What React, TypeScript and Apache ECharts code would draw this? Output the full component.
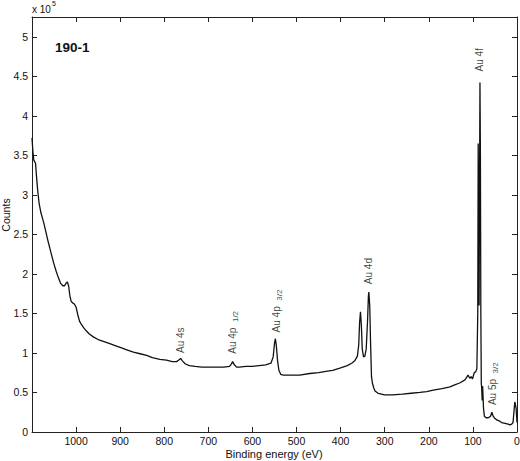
import React, { useEffect, useRef } from "react";
import * as echarts from "echarts";

// Binding energy (eV) and counts (x 10^5)
const energy: number[] = [
  1100, 1098, 1096, 1094, 1092, 1090, 1087, 1084, 1080, 1076, 1073, 1068, 1063, 1057, 1051, 1045, 1040, 1035,
  1030, 1026, 1023, 1020, 1017, 1014, 1011, 1007, 1004, 1000, 996, 992, 988, 983, 977, 970, 960, 950, 940, 925,
  910, 900, 885, 870, 855, 840, 827, 810, 795, 782, 772, 767, 763, 759, 752, 743, 730, 715, 700, 682, 665, 652,
  648, 645, 641, 636, 630, 615, 600, 585, 570, 558, 553, 550, 548, 546, 543, 540, 536, 530, 510, 493, 470, 450,
  430, 418, 400, 385, 375, 368, 362, 359, 357, 355, 353, 351, 348, 345, 342, 339, 337, 336, 334, 332, 330, 328,
  325, 322, 315, 300, 282, 260, 240, 220, 205, 190, 170, 152, 140, 130, 118, 111, 107, 104, 101, 97, 94, 91, 89,
  88, 87, 86, 85, 84, 83, 82, 81, 80, 79, 78, 77, 76, 74, 70, 65, 60, 57, 54, 50, 45, 40, 35, 27, 20, 16, 12, 9,
  7, 5, 4, 2, 0,
];
const counts: number[] = [
  3.72, 3.55, 3.44, 3.42, 3.4, 3.25, 3.05, 2.9, 2.78, 2.7, 2.64, 2.52, 2.4, 2.27, 2.14, 2.03, 1.95, 1.88,
  1.85, 1.85, 1.88, 1.9, 1.85, 1.72, 1.65, 1.63, 1.62, 1.58, 1.48, 1.4, 1.36, 1.32, 1.28, 1.24, 1.2, 1.17, 1.15, 1.12,
  1.09, 1.07, 1.04, 1.01, 0.99, 0.97, 0.94, 0.92, 0.91, 0.89, 0.89, 0.91, 0.93, 0.9, 0.86, 0.84, 0.83, 0.82, 0.82, 0.82, 0.82, 0.83,
  0.86, 0.89, 0.85, 0.82, 0.82, 0.83, 0.83, 0.84, 0.85, 0.87, 0.95, 1.12, 1.18, 1.1, 0.9, 0.78, 0.73, 0.72, 0.72, 0.72, 0.74, 0.75,
  0.77, 0.78, 0.81, 0.84, 0.87, 0.9, 0.96, 1.1, 1.38, 1.52, 1.35, 1.05, 0.95, 0.96, 1.05, 1.4, 1.72, 1.77, 1.6, 1.1, 0.7, 0.62,
  0.56, 0.52, 0.49, 0.47, 0.47, 0.48, 0.49, 0.5, 0.51, 0.53, 0.55, 0.57, 0.6, 0.62, 0.66, 0.72, 0.68, 0.7, 0.67, 0.75, 0.76, 0.8, 1.5,
  3.65, 2.8, 1.6, 3.0, 4.42, 3.5, 1.5, 0.62, 0.55, 0.4, 0.58, 0.45, 0.3, 0.2, 0.18, 0.18, 0.2, 0.25, 0.2, 0.17, 0.15, 0.14, 0.12, 0.11, 0.1, 0.09, 0.1, 0.12,
  0.25, 0.38, 0.36, 0.3, 0.12,
];

// Peak annotations: label text, energy and height of the label's start
const peakLabels: string[] = ["Au 4s", "Au 4p  {s|1/2}", "Au 4p  {s|3/2}", "Au 4d", "Au 4f", "Au 5p  {s|3/2}"];
const peakEnergy: number[] = [763, 645, 545, 336, 86, 55];
const peakHeight: number[] = [1.0, 0.99, 1.26, 1.87, 4.56, 0.34];

const xTicks: number[] = [0, 100, 200, 300, 400, 500, 600, 700, 800, 900, 1000];
const yTicks: number[] = [0, 0.5, 1, 1.5, 2, 2.5, 3, 3.5, 4, 4.5, 5];

const FONT = "Liberation Sans, Arial, Helvetica, sans-serif";
const AX = "#222";

export default function App() {
  const ref = useRef<HTMLDivElement>(null);
  useEffect(() => {
    document.body.style.margin = "0";
    if (!ref.current) return;
    const chart = echarts.init(ref.current, null, { renderer: "svg" });
    const lineData = energy.map((e, i) => [e, counts[i]]);
    const labelData = peakLabels.map((t, i) => ({ value: [peakEnergy[i], peakHeight[i]], label: { formatter: t } }));
    const axisLineStyle = { show: true, onZero: false, lineStyle: { color: AX, width: 1 } };
    const tick = { show: true, inside: true, length: 5, lineStyle: { color: AX, width: 1 } };
    const xCommon = {
      type: "value" as const,
      min: 0,
      max: 1100,
      interval: 100,
      inverse: true,
      splitLine: { show: false },
      axisLine: axisLineStyle,
      axisTick: tick,
    };
    const yCommon = {
      type: "value" as const,
      min: 0,
      max: 5.25,
      interval: 0.5,
      splitLine: { show: false },
      axisLine: axisLineStyle,
      axisTick: tick,
    };
    chart.setOption({
      animation: false,
      textStyle: { fontFamily: FONT },
      grid: { left: 32, right: 3, top: 17, bottom: 29, containLabel: false, outerBoundsMode: "none" },
      xAxis: [
        {
          ...xCommon,
          position: "bottom",
          axisLabel: {
            color: "#111",
            fontSize: 10.5,
            lineHeight: 12,
            margin: 3,
            fontFamily: FONT,
            formatter: (v: number) => (xTicks.includes(v) ? String(v) : ""),
          },
        },
        { ...xCommon, position: "top", axisLabel: { show: false } },
      ],
      yAxis: [
        {
          ...yCommon,
          position: "left",
          axisLabel: {
            color: "#111",
            fontSize: 10.5,
            margin: 4,
            fontFamily: FONT,
            formatter: (v: number) => (yTicks.includes(v) ? String(v) : ""),
          },
        },
        { ...yCommon, position: "right", axisLabel: { show: false } },
      ],
      graphic: [
        {
          type: "text",
          x: 32,
          y: 9,
          style: { text: "x 10", fontSize: 10, fontFamily: FONT, fill: "#111", textVerticalAlign: "middle" },
        },
        {
          type: "text",
          x: 52,
          y: 3,
          style: { text: "5", fontSize: 7, fontFamily: FONT, fill: "#111", textVerticalAlign: "middle" },
        },
        {
          type: "text",
          x: 55,
          y: 47,
          style: {
            text: "190-1",
            fontSize: 13.5,
            fontWeight: "bold",
            fontFamily: FONT,
            fill: "#111",
            textVerticalAlign: "middle",
          },
        },
        {
          type: "text",
          x: 274,
          y: 454,
          style: {
            text: "Binding energy (eV)",
            fontSize: 11,
            lineHeight: 12,
            fontFamily: FONT,
            fill: "#111",
            textAlign: "center",
            textVerticalAlign: "middle",
          },
        },
        {
          type: "text",
          x: 6,
          y: 215,
          rotation: Math.PI / 2,
          style: {
            text: "Counts",
            fontSize: 10.5,
            fontFamily: FONT,
            fill: "#111",
            textAlign: "center",
            textVerticalAlign: "middle",
          },
        },
      ],
      series: [
        {
          type: "line",
          data: lineData,
          showSymbol: false,
          symbol: "none",
          lineStyle: { color: "#111", width: 1.3 },
          silent: true,
        },
        {
          type: "scatter",
          data: labelData,
          symbolSize: 0,
          silent: true,
          label: {
            show: true,
            position: [0, 0],
            rotate: 90,
            align: "left",
            verticalAlign: "middle",
            fontSize: 10,
            fontFamily: FONT,
            color: "#111",
            rich: {
              s: { fontSize: 8, fontFamily: FONT, color: "#111", padding: [5, 0, 0, 0] },
            },
          },
        },
      ],
    });
    return () => chart.dispose();
  }, []);
  return <div ref={ref} style={{ width: 520, height: 461 }} />;
}
